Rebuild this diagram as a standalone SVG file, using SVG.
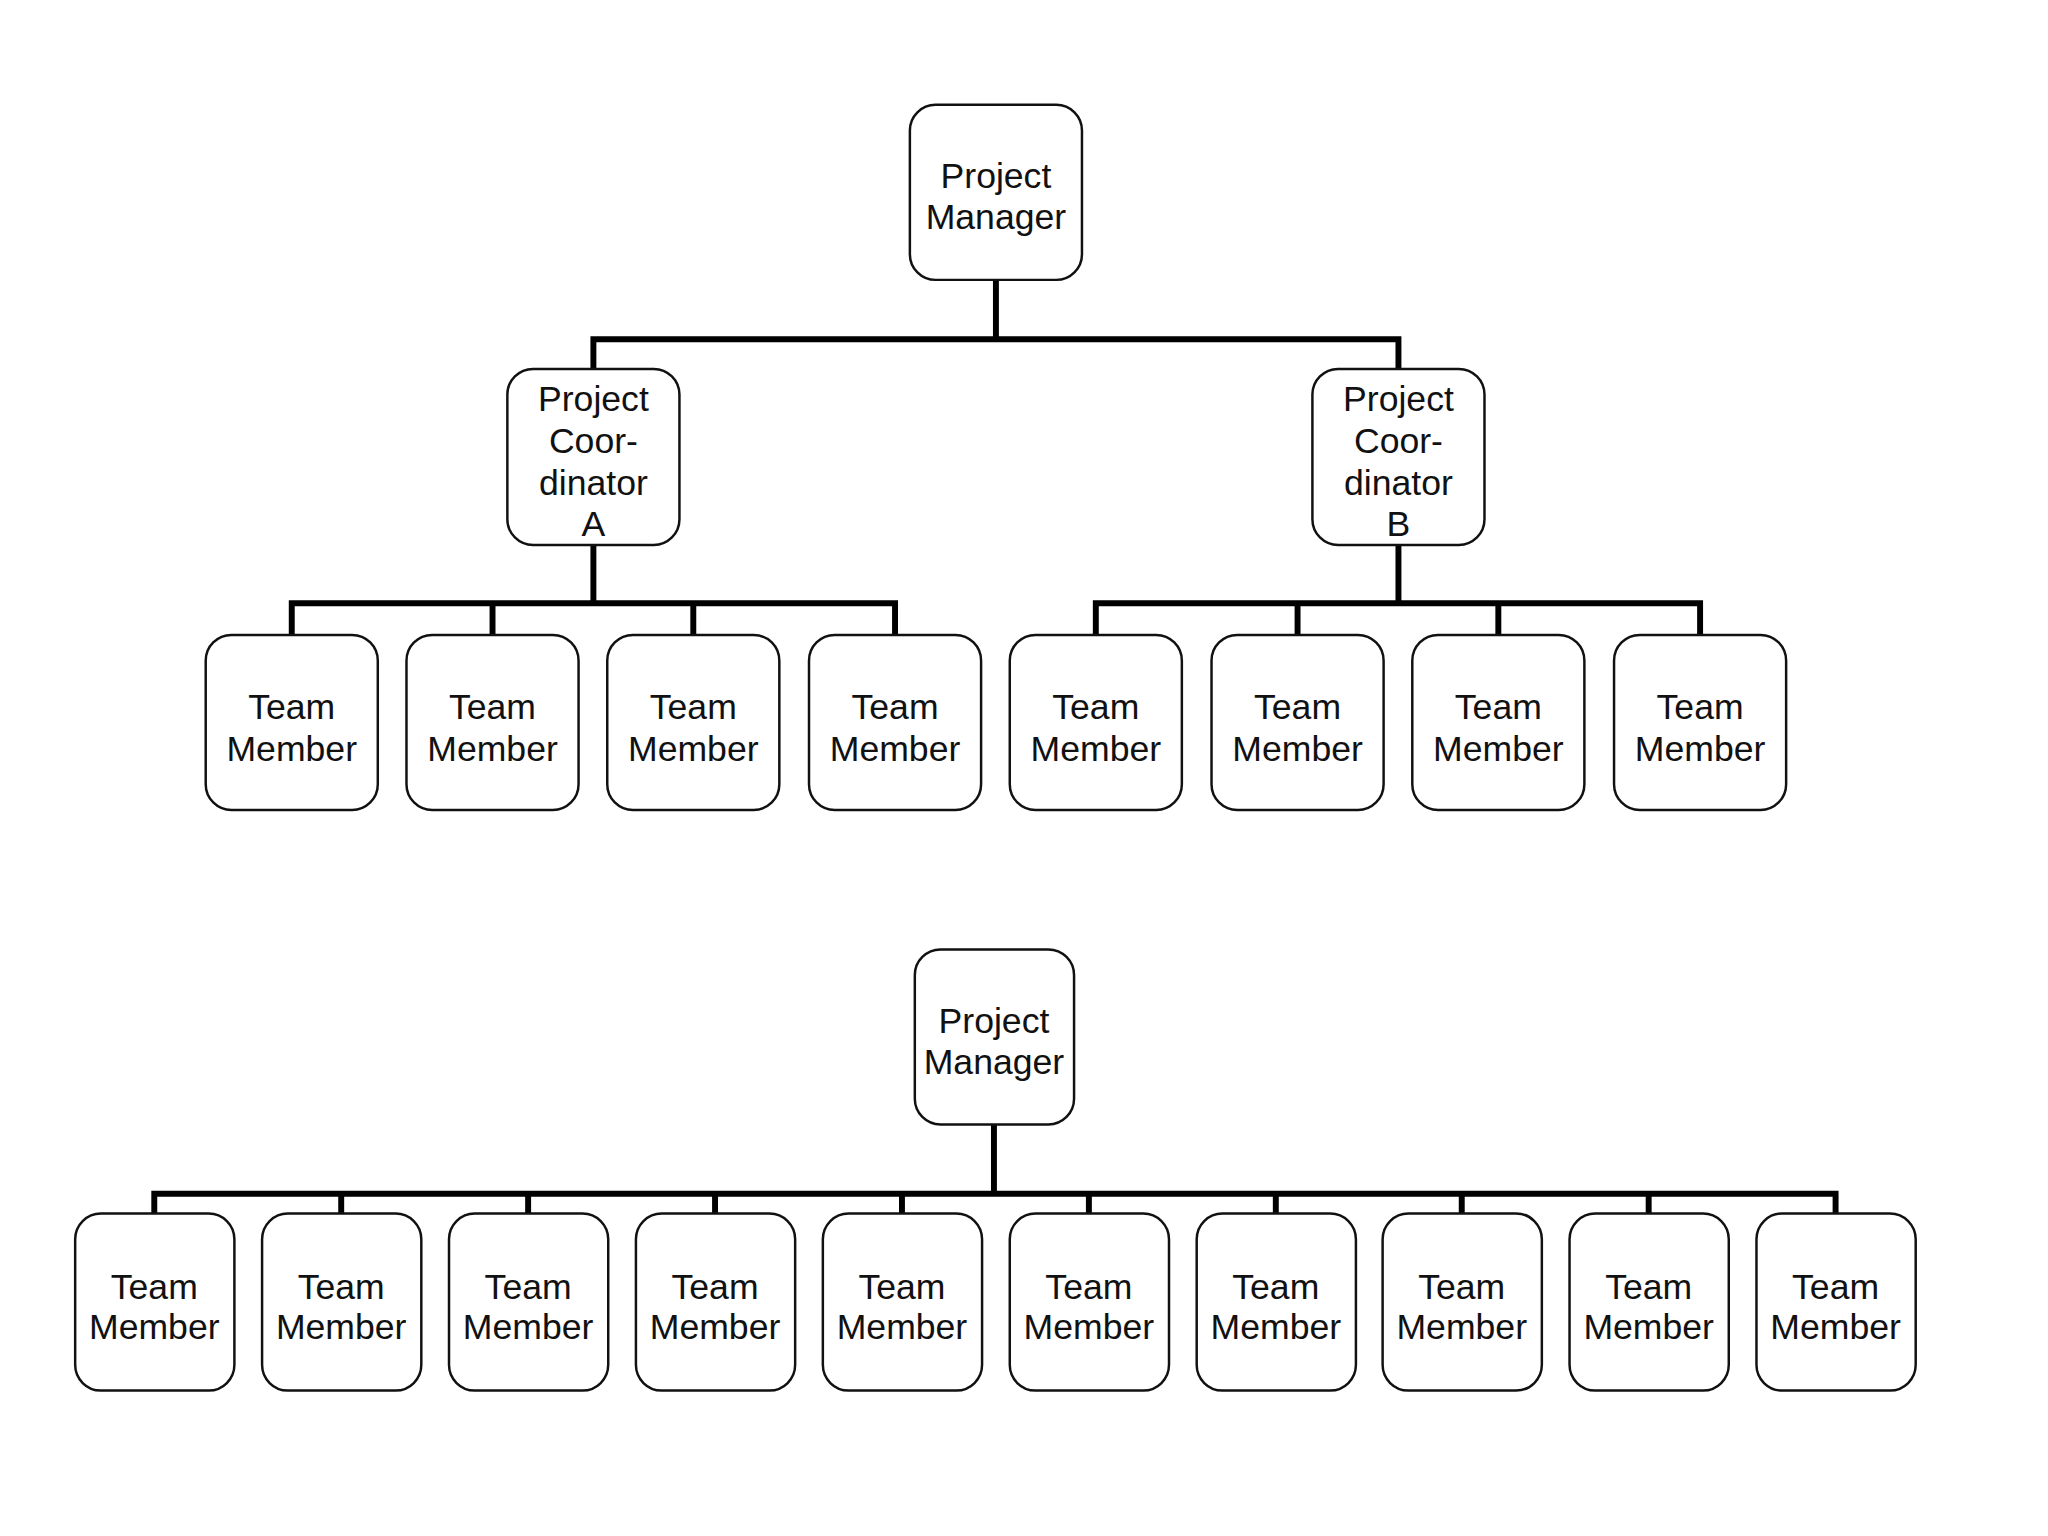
<svg xmlns="http://www.w3.org/2000/svg" width="2048" height="1536" viewBox="0 0 2048 1536">
<style>
.b{fill:#fff;stroke:#111;stroke-width:2.5}
.t{font-family:"Liberation Sans",Arial,sans-serif;font-size:36px;text-anchor:middle;fill:#111}
.c{fill:none;stroke:#000;stroke-width:6}
</style>
<rect width="2048" height="1536" fill="#fff"/>
<g transform="scale(0.989)">
<g id="connectors" class="c">
<path d="M1007 283V343M600 373V343H1414V373"/>
<path d="M600 551V610M1414 551V610M295 642V610H905V642M498 610V642M701 610V642M1108 642V610H1719V642M1312 610V642M1515 610V642"/>
<path d="M1005 1137V1207M156 1227V1207H1856V1227M345 1207V1227M534 1207V1227M723 1207V1227M912 1207V1227M1101 1207V1227M1290 1207V1227M1478 1207V1227M1667 1207V1227"/>
</g>
<g id="pm1"><rect class="b" x="920" y="106" width="174" height="177" rx="26"/><text class="t" x="1007" y="190">Project</text><text class="t" x="1007" y="232">Manager</text></g>
<g id="pcA"><rect class="b" x="513" y="373" width="174" height="178" rx="26"/><text class="t" x="600" y="416">Project</text><text class="t" x="600" y="458">Coor-</text><text class="t" x="600" y="500">dinator</text><text class="t" x="600" y="542">A</text></g>
<g id="pcB"><rect class="b" x="1327" y="373" width="174" height="178" rx="26"/><text class="t" x="1414" y="416">Project</text><text class="t" x="1414" y="458">Coor-</text><text class="t" x="1414" y="500">dinator</text><text class="t" x="1414" y="542">B</text></g>
<g id="tm1"><rect class="b" x="208" y="642" width="174" height="177" rx="26"/><text class="t" x="295" y="727">Team</text><text class="t" x="295" y="769">Member</text></g>
<g id="tm2"><rect class="b" x="411" y="642" width="174" height="177" rx="26"/><text class="t" x="498" y="727">Team</text><text class="t" x="498" y="769">Member</text></g>
<g id="tm3"><rect class="b" x="614" y="642" width="174" height="177" rx="26"/><text class="t" x="701" y="727">Team</text><text class="t" x="701" y="769">Member</text></g>
<g id="tm4"><rect class="b" x="818" y="642" width="174" height="177" rx="26"/><text class="t" x="905" y="727">Team</text><text class="t" x="905" y="769">Member</text></g>
<g id="tm5"><rect class="b" x="1021" y="642" width="174" height="177" rx="26"/><text class="t" x="1108" y="727">Team</text><text class="t" x="1108" y="769">Member</text></g>
<g id="tm6"><rect class="b" x="1225" y="642" width="174" height="177" rx="26"/><text class="t" x="1312" y="727">Team</text><text class="t" x="1312" y="769">Member</text></g>
<g id="tm7"><rect class="b" x="1428" y="642" width="174" height="177" rx="26"/><text class="t" x="1515" y="727">Team</text><text class="t" x="1515" y="769">Member</text></g>
<g id="tm8"><rect class="b" x="1632" y="642" width="174" height="177" rx="26"/><text class="t" x="1719" y="727">Team</text><text class="t" x="1719" y="769">Member</text></g>
<g id="pm2"><rect class="b" x="925" y="960" width="161" height="177" rx="26"/><text class="t" x="1005" y="1044">Project</text><text class="t" x="1005" y="1086">Manager</text></g>
<g id="b1"><rect class="b" x="76" y="1227" width="161" height="179" rx="26"/><text class="t" x="156" y="1313">Team</text><text class="t" x="156" y="1354">Member</text></g>
<g id="b2"><rect class="b" x="265" y="1227" width="161" height="179" rx="26"/><text class="t" x="345" y="1313">Team</text><text class="t" x="345" y="1354">Member</text></g>
<g id="b3"><rect class="b" x="454" y="1227" width="161" height="179" rx="26"/><text class="t" x="534" y="1313">Team</text><text class="t" x="534" y="1354">Member</text></g>
<g id="b4"><rect class="b" x="643" y="1227" width="161" height="179" rx="26"/><text class="t" x="723" y="1313">Team</text><text class="t" x="723" y="1354">Member</text></g>
<g id="b5"><rect class="b" x="832" y="1227" width="161" height="179" rx="26"/><text class="t" x="912" y="1313">Team</text><text class="t" x="912" y="1354">Member</text></g>
<g id="b6"><rect class="b" x="1021" y="1227" width="161" height="179" rx="26"/><text class="t" x="1101" y="1313">Team</text><text class="t" x="1101" y="1354">Member</text></g>
<g id="b7"><rect class="b" x="1210" y="1227" width="161" height="179" rx="26"/><text class="t" x="1290" y="1313">Team</text><text class="t" x="1290" y="1354">Member</text></g>
<g id="b8"><rect class="b" x="1398" y="1227" width="161" height="179" rx="26"/><text class="t" x="1478" y="1313">Team</text><text class="t" x="1478" y="1354">Member</text></g>
<g id="b9"><rect class="b" x="1587" y="1227" width="161" height="179" rx="26"/><text class="t" x="1667" y="1313">Team</text><text class="t" x="1667" y="1354">Member</text></g>
<g id="b10"><rect class="b" x="1776" y="1227" width="161" height="179" rx="26"/><text class="t" x="1856" y="1313">Team</text><text class="t" x="1856" y="1354">Member</text></g>
</g>
</svg>
